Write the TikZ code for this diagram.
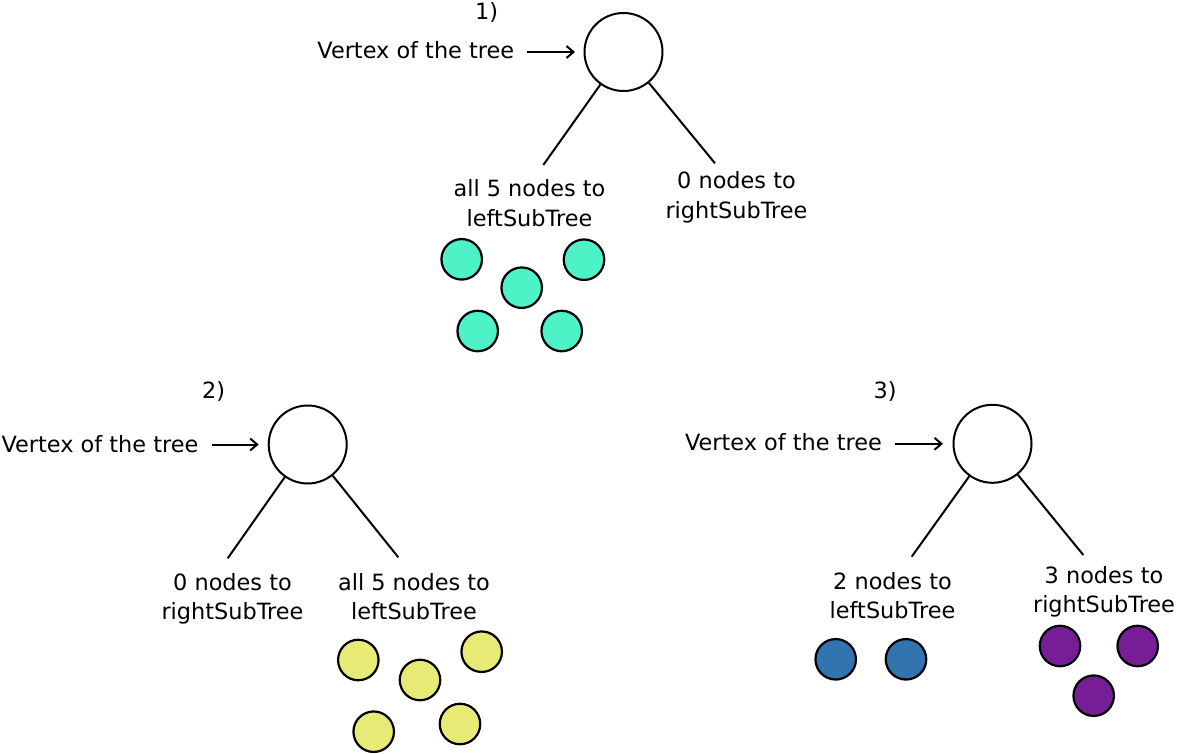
\documentclass[tikz,border=0pt]{standalone}
\usepackage{fontspec}
\setmainfont{DejaVu Sans}
\usetikzlibrary{arrows.meta}
\definecolor{tealc}{HTML}{4DF2C6}
\definecolor{yellowc}{HTML}{E7EB76}
\definecolor{bluec}{HTML}{3274AF}
\definecolor{purplec}{HTML}{771D96}
\tikzset{
  vertex/.style={circle,draw,line width=2pt,minimum size=78pt,inner sep=0pt,fill=white},
  ball/.style={circle,draw,line width=2.2pt,minimum size=40.5pt,inner sep=0pt},
  lbl/.style={font=\fontsize{22.4}{29.5}\selectfont,align=center,inner sep=0pt,anchor=base},
  edge/.style={line width=2pt},
  arr/.style={line width=2pt,-{Straight Barb[length=7pt,width=12pt,line width=2pt]}},
}
\begin{document}
\begin{tikzpicture}[x=1pt,y=-1pt]
\useasboundingbox (0,0) rectangle (1177,754);
% ---------- tree 1 ----------
\node[lbl] (n1) at (486.7,20) {1)};
\node[vertex] (c1) at (623.5,52) {};
\node[lbl] (v1) at (415.8,58.3) {Vertex of the tree};
\draw[arr,shorten <=13pt,shorten >=8.5pt] (v1.east |- c1.west) -- (c1.west);
\coordinate (e1l) at (543.3,165);
\coordinate (e1r) at (715,163.3);
\draw[edge] (c1) -- (e1l);
\draw[edge] (c1) -- (e1r);
\node[lbl] (l1l) at (529.5,226) {all 5 nodes to\\leftSubTree};
\node[lbl] (l1r) at (736.5,218.3) {0 nodes to\\rightSubTree};
\node[ball,fill=tealc] (t1) at (461.7,259.3) {};
\node[ball,fill=tealc] (t2) at (584,259.7) {};
\node[ball,fill=tealc] (t3) at (521.7,287.7) {};
\node[ball,fill=tealc] (t4) at (477.7,331) {};
\node[ball,fill=tealc] (t5) at (561.7,331) {};
% ---------- tree 2 ----------
\node[lbl] (n2) at (213.7,398.3) {2)};
\node[vertex] (c2) at (307.7,444.5) {};
\node[lbl] (v2) at (100,452.3) {Vertex of the tree};
\draw[arr,shorten <=13pt,shorten >=9pt] (v2.east |- c2.west) -- (c2.west);
\coordinate (e2l) at (227.7,558.3);
\coordinate (e2r) at (398.3,557.3);
\draw[edge] (c2) -- (e2l);
\draw[edge] (c2) -- (e2r);
\node[lbl] (l2l) at (232.5,619.7) {0 nodes to\\rightSubTree};
\node[lbl] (l2r) at (414,619.7) {all 5 nodes to\\leftSubTree};
\node[ball,fill=yellowc] (y1) at (358.3,660) {};
\node[ball,fill=yellowc] (y2) at (481.7,651.7) {};
\node[ball,fill=yellowc] (y3) at (420,680) {};
\node[ball,fill=yellowc] (y4) at (373.7,731.7) {};
\node[ball,fill=yellowc] (y5) at (460,724) {};
% ---------- tree 3 ----------
\node[lbl] (n3) at (885,398.3) {3)};
\node[vertex] (c3) at (992.5,443.8) {};
\node[lbl] (v3) at (783.5,450.5) {Vertex of the tree};
\draw[arr,shorten <=13pt,shorten >=9.5pt] (v3.east |- c3.west) -- (c3.west);
\coordinate (e3l) at (911.7,556.7);
\coordinate (e3r) at (1083.3,555);
\draw[edge] (c3) -- (e3l);
\draw[edge] (c3) -- (e3r);
\node[lbl] (l3l) at (892.5,618.5) {2 nodes to\\leftSubTree};
\node[lbl] (l3r) at (1104,612.5) {3 nodes to\\rightSubTree};
\node[ball,fill=bluec] (b1) at (835.7,659.3) {};
\node[ball,fill=bluec] (b2) at (906,659.3) {};
\node[ball,fill=purplec] (p1) at (1060,646) {};
\node[ball,fill=purplec] (p2) at (1137.7,646) {};
\node[ball,fill=purplec] (p3) at (1093.7,695.7) {};
\end{tikzpicture}
\end{document}
